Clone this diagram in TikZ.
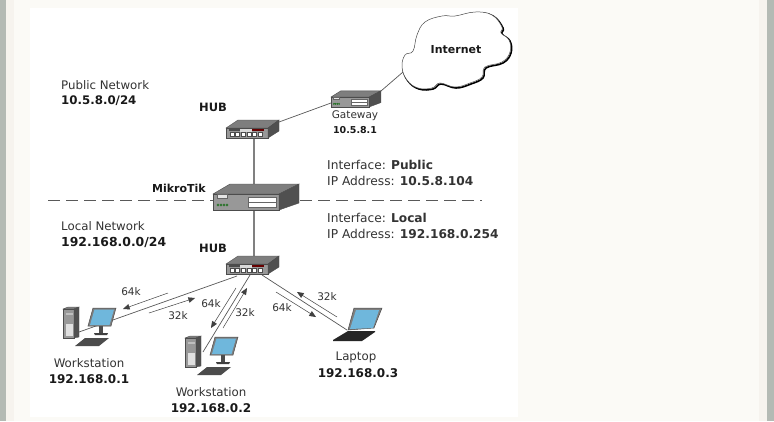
\documentclass[tikz,border=0pt]{standalone}
\usepackage{fontspec}
\setmainfont{DejaVu Sans}
\usetikzlibrary{arrows}
\definecolor{pagebg}{HTML}{FBFAF6}
\definecolor{edgegrey}{HTML}{B4BAB4}
\definecolor{edgelight}{HTML}{F6F3EE}
\definecolor{boxtop}{HTML}{7E7E7E}
\definecolor{boxfront}{HTML}{989898}
\definecolor{boxside}{HTML}{505050}
\definecolor{screenblue}{HTML}{6FB7DC}
\tikzset{
txt/.style={inner sep=0pt,font=\fontsize{11.8}{13}\selectfont,text=black!80},
lft/.style={txt,anchor=west},
ifc/.style={lft,font=\fontsize{12.2}{14}\selectfont},
bld/.style={txt,font=\fontsize{12}{13}\selectfont\bfseries,text=black!90},
small/.style={txt,font=\fontsize{10.5}{12}\selectfont},
link/.style={draw=black!65,line width=.7pt},
trunk/.style={draw=black!50,line width=1.1pt},
flow/.style={draw=black!75,line width=.5pt,-triangle 45},
pics/hubdev/.style={code={
\draw[black!70,fill=boxtop,line width=.4pt] (0,0)--(12,-8)--(53,-8)--(42,0)--cycle;
\draw[black!70,fill=boxfront,line width=.4pt] (0,0) rectangle (42,10);
\draw[black!70,fill=boxside,line width=.4pt] (42,0)--(53,-8)--(53,3)--(42,10)--cycle;
\fill[black!15] (14,1) rectangle (26,3.5);
\fill[black!70] (3,1.2) rectangle (14,3);
\fill[red!40!black] (26,1.2) rectangle (38,3);
\foreach \p in {0,...,5}{\draw[black!70,fill=white,line width=.3pt] (4+5.6*\p,4.5) rectangle +(4,4);}
}},
pics/routerdev/.style={code={
\draw[black!70,fill=boxtop,line width=.4pt] (0,0)--(17,-10)--(86,-10)--(66,0)--cycle;
\draw[black!70,fill=boxfront,line width=.4pt] (0,0) rectangle (66,16);
\draw[black!70,fill=boxside,line width=.4pt] (66,0)--(86,-10)--(86,9)--(66,16)--cycle;
\draw[black!60,fill=white,line width=.3pt] (35,3) rectangle (63,13);
\draw[black!60,line width=.3pt] (35,8)--(63,8);
\draw[black!60,fill=black!10,line width=.3pt] (4,.5) rectangle (14,4);
\foreach \p in {0,...,3}{\draw[green!40!black,line width=.3pt] (5+3*\p,11) circle (1.2);}
}},
pics/workdev/.style={code={
% tower
\draw[black!70,fill=boxtop,line width=.3pt] (0,-2)--(5,-4)--(16,-4)--(11,-2)--cycle;
\draw[black!70,fill=boxfront,line width=.3pt] (0,-2) rectangle (11,27);
\draw[black!70,fill=boxside,line width=.3pt] (11,-2)--(16,-4)--(16,26)--(11,27)--cycle;
\fill[black!12] (2.5,13) rectangle (9.5,25);
\fill[black!25] (2.5,2) rectangle (9.5,4);
% screen
\fill[black!70] (36,15) rectangle (40,22);
\fill[black!75] (31,22)--(45,22)--(44,24)--(32,24)--cycle;
\draw[black!70,fill=boxtop,line width=.5pt] (25,15)--(30,-3)--(53,-3)--(48,15)--cycle;
\fill[screenblue] (27,14)--(31.5,-1.5)--(51,-1.5)--(46.5,14)--cycle;
% keyboard
\fill[black!70] (12,35)--(22,27)--(46,27)--(36,35)--cycle;
}},
pics/laptopdev/.style={code={
\draw[black!70,fill=boxtop,line width=.5pt] (1,22)--(7,0)--(35,0)--(27,20)--cycle;
\fill[screenblue] (3,21)--(9,2)--(32,2)--(26,20)--cycle;
\fill[black!85] (-14,33)--(-14,32)--(1,23)--(28,23)--(28,24)--(15,33)--cycle;
}},
}
\begin{document}
\begin{tikzpicture}[x=1pt,y=-1pt]
\useasboundingbox (0,0) rectangle (774,421);
\fill[pagebg] (0,0) rectangle (774,421);
\fill[edgegrey] (0,0) rectangle (6,421);
\fill[edgelight] (6,0) rectangle (14,421);
\fill[edgelight] (759,0) rectangle (767,421);
\fill[edgegrey] (767,0) rectangle (774,421);
\fill[white] (30,8) rectangle (518,417);

% attachment points
\coordinate (hubA) at (254,138);
\coordinate (hubAgate) at (279,122);
\coordinate (gateL) at (331,103);
\coordinate (gateR) at (381,91);
\coordinate (cloudL) at (403,72);
\coordinate (mikroT) at (254,186);
\coordinate (mikroB) at (254,209);
\coordinate (hubBtop) at (254,257);
\coordinate (hubBws1) at (237,276);
\coordinate (hubBws2) at (250,275);
\coordinate (hubBlap) at (262,275);
\coordinate (ws1) at (79,332);
\coordinate (ws2) at (203,352);
\coordinate (lap) at (347,330);
\coordinate (dashL) at (48,200);
\coordinate (dashR) at (482,200);

% lines under the devices
\draw[black!65,line width=.7pt,dash pattern=on 12pt off 6pt] (dashL)--(dashR);
\foreach \x/\y in {hubA/mikroT,mikroB/hubBtop}{
\draw[trunk](\x)--(\y);
}
\foreach \x/\y in {hubAgate/gateL,gateR/cloudL,hubBws1/ws1,hubBws2/ws2,hubBlap/lap}{
\draw[link](\x)--(\y);
}

% devices
\draw (226,128) pic{hubdev};
\draw (226,264) pic{hubdev};
\draw (213,194) pic{routerdev};
\draw (331,97) pic[xscale=.58,yscale=.62]{routerdev};
\draw (63,311) pic{workdev};
\draw (185,340) pic{workdev};
\draw (347,308) pic{laptopdev};

% cloud
\draw[black,line width=1.6pt,fill=white,xshift=1pt,yshift=-1pt] plot[smooth cycle,tension=.7] coordinates {(402,67)(405,55)(413,51)(417,35)(425,22)(442,16)(455,16)(475,12)(492,15)(502,27)(501,33)(509,40)(510,52)(502,62)(485,67)(482,77)(470,83)(455,87)(440,83)(432,88)(418,88)(407,80)};
\draw[black!70,line width=.5pt,fill=white] plot[smooth cycle,tension=.7] coordinates {(402,67)(405,55)(413,51)(417,35)(425,22)(442,16)(455,16)(475,12)(492,15)(502,27)(501,33)(509,40)(510,52)(502,62)(485,67)(482,77)(470,83)(455,87)(440,83)(432,88)(418,88)(407,80)};

% traffic arrows
\draw
(168,293) coordinate(fa1) (123,309) coordinate(fa2)
(149,313) coordinate(fb1) (195,298) coordinate(fb2)
(236,288) coordinate(fc1) (211,328) coordinate(fc2)
(223,328) coordinate(fd1) (247,288) coordinate(fd2)
(276,292) coordinate(fe1) (316,317) coordinate(fe2)
(337,317) coordinate(ff1) (297,292) coordinate(ff2)
;
\foreach \x/\y in {fa1/fa2,fb1/fb2,fc1/fc2,fd1/fd2,fe1/fe2,ff1/ff2}{
\draw[flow](\x)--(\y);
}

% texts
\draw
(456,50) node[bld,font=\fontsize{11}{13}\selectfont\bfseries](inet){Internet}
(213,107) node[bld,font=\fontsize{11.5}{13}\selectfont\bfseries](hubAlbl){HUB}
(213,248) node[bld,font=\fontsize{11.5}{13}\selectfont\bfseries](hubBlbl){HUB}
(179,188) node[bld,font=\fontsize{11}{13}\selectfont\bfseries](mikrolbl){MikroTik}
(355,116) node[small](gatelbl){Gateway}
(355,130) node[bld,font=\fontsize{9.5}{12}\selectfont\bfseries](gateip){10.5.8.1}
(61,85) node[lft](pubnet){Public Network}
(61,101) node[lft,font=\fontsize{11.8}{13}\selectfont\bfseries,text=black!90](pubip){10.5.8.0/24}
(61,226) node[lft](locnet){Local Network}
(61,242) node[lft,font=\fontsize{12.4}{13}\selectfont\bfseries,text=black!90](locip){192.168.0.0/24}
(327,165) node[ifc](ifpub){Interface: \textbf{Public}}
(327,181) node[ifc](addrpub){IP Address: \textbf{10.5.8.104}}
(327,218) node[ifc](ifloc){Interface: \textbf{Local}}
(327,234) node[ifc](addrloc){IP Address: \textbf{192.168.0.254}}
(89,363) node[txt](wsAlbl){Workstation}
(89,379) node[bld](wsAip){192.168.0.1}
(211,392) node[txt](wsBlbl){Workstation}
(211,408) node[bld](wsBip){192.168.0.2}
(356,357) node[txt](laplbl){Laptop}
(358,373) node[bld](lapip){192.168.0.3}
;
\foreach \x/\y/\n/\l in {131/292/ka/64k,178/316/kb/32k,211/304/kc/64k,245/313/kd/32k,282/308/ke/64k,327/297/kf/32k}{
\node[small] (\n) at (\x,\y) {\l};
}
\end{tikzpicture}
\end{document}
